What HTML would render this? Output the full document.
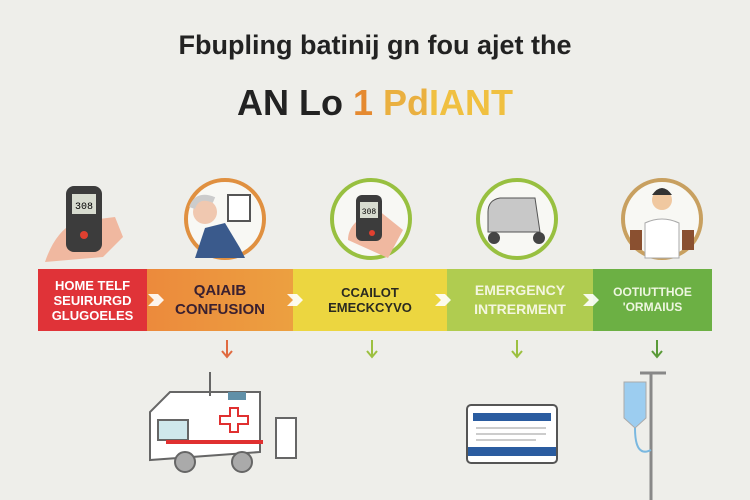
<!DOCTYPE html><html><head><style>
body{margin:0;width:750px;height:500px;background:#eeeeea;font-family:"Liberation Sans",sans-serif;position:relative;overflow:hidden}
.t{position:absolute;left:0;width:750px;text-align:center;font-weight:bold}
.seg{position:absolute;top:269px;height:62px;display:flex;align-items:center;justify-content:center;text-align:center;font-weight:bold;font-size:13px;line-height:15px}
</style></head><body>
<div class="t" style="top:30px;font-size:27px;color:#222">Fbupling batinij gn fou ajet the</div>
<div class="t" style="top:82px;font-size:36px;color:#222">AN Lo <span style="color:#e58a30">1 </span><span style="color:#eab040">Pd</span><span style="color:#f0c040">IANT</span></div>
<div class="seg" style="left:38px;width:109px;background:#e03338;color:#fff">HOME TELF<br>SEUIRURGD<br>GLUGOELES</div>
<div class="seg" style="left:147px;width:146px;background:linear-gradient(90deg,#ec8a3c,#eca040);color:#3a2030;font-size:15px;line-height:19px">QAIAIB<br>CONFUSION</div>
<div class="seg" style="left:293px;width:154px;background:#ecd640;color:#2a2a20">CCAILOT<br>EMECKCYVO</div>
<div class="seg" style="left:447px;width:146px;background:#b0cc50;color:#f4f6e0;font-size:14px;line-height:19px">EMERGENCY<br>INTRERMENT</div>
<div class="seg" style="left:593px;width:119px;background:#6cb044;color:#eef6e0;font-size:12px">OOTIUTTHOE<br>'ORMAIUS</div>
<svg width="750" height="500" style="position:absolute;left:0;top:0">
<g fill="#fff" opacity=".9"><path d="M148 294h10l6 6-6 6h-10l6-6z"/><path d="M287 294h10l6 6-6 6h-10l6-6z"/><path d="M435 294h10l6 6-6 6h-10l6-6z"/><path d="M583 294h10l6 6-6 6h-10l6-6z"/></g>
<g fill="none" stroke-width="4"><circle cx="225" cy="219" r="39" stroke="#e09040" fill="#f8f8f4"/><circle cx="371" cy="219" r="39" stroke="#98c040" fill="#f8f8f4"/><circle cx="517" cy="219" r="39" stroke="#98c040" fill="#f8f8f4"/><circle cx="662" cy="219" r="39" stroke="#c8a060" fill="#f8f8f4"/></g>
<path d="M45 262q10-30 30-40l40-5 8 20-20 20z" fill="#f0b8a0"/>
<rect x="66" y="186" width="36" height="66" rx="8" fill="#3c3c3c"/><rect x="72" y="194" width="24" height="20" fill="#d8dcd0"/><text x="84" y="209" font-size="10" text-anchor="middle" font-family="Liberation Mono">308</text><circle cx="84" cy="235" r="4" fill="#e04030"/>
<path d="M195 258l10-30 20-5 15 25 5 10z" fill="#3a5a8c"/><circle cx="205" cy="212" r="12" fill="#f0c8b0"/><path d="M192 208q5-15 22-8" stroke="#ccc" stroke-width="6" fill="none"/><rect x="228" y="195" width="22" height="26" fill="#fff" stroke="#555" stroke-width="2"/>
<path d="M348 240q0-20 30-30l25 20-15 28z" fill="#f0b8a0"/><rect x="356" y="195" width="26" height="46" rx="6" fill="#3c3c3c"/><rect x="360" y="202" width="18" height="16" fill="#d8dcd0"/><text x="369" y="214" font-size="8" text-anchor="middle" font-family="Liberation Mono">308</text><circle cx="372" cy="233" r="3" fill="#e04030"/>
<path d="M488 232v-20q0-12 12-14h35l5 34z" fill="#c8c8c8" stroke="#555"/><circle cx="494" cy="238" r="6" fill="#444"/><circle cx="539" cy="238" r="6" fill="#444"/>
<circle cx="662" cy="200" r="10" fill="#f0c8a0"/><path d="M652 195q10-14 20 0" fill="#333"/><path d="M645 258v-35q17-8 34 0v35z" fill="#fff" stroke="#aaa"/><rect x="630" y="230" width="12" height="20" fill="#8a5030"/><rect x="682" y="230" width="12" height="20" fill="#8a5030"/>
<g stroke-width="2" fill="none"><path d="M227 340v16M222 351l5 6 5-6" stroke="#e06a40"/><path d="M372 340v16M367 351l5 6 5-6" stroke="#9cc040"/><path d="M517 340v16M512 351l5 6 5-6" stroke="#9cc040"/><path d="M657 340v16M652 351l5 6 5-6" stroke="#5a9a38"/></g>
<g stroke="#666" stroke-width="2"><path d="M150 460v-48l20-20h90v60z" fill="#fff"/><rect x="158" y="420" width="30" height="20" fill="#cfe8ec"/><path d="M166 442h97" stroke="#e03030" stroke-width="4"/><path d="M220 416h10v-8h8v8h10v8h-10v8h-8v-8h-10z" fill="none" stroke="#e03030"/><circle cx="185" cy="462" r="10" fill="#aaa"/><circle cx="242" cy="462" r="10" fill="#aaa"/><rect x="276" y="418" width="20" height="40" fill="#fff"/><path d="M210 396v-24"/></g>
<rect x="228" y="392" width="18" height="8" fill="#6090a8"/>
<rect x="467" y="405" width="90" height="58" rx="4" fill="#fff" stroke="#555" stroke-width="2"/><rect x="473" y="413" width="78" height="8" fill="#2a5ca0"/><rect x="468" y="447" width="88" height="9" fill="#2a5ca0"/>
<g stroke="#999"><path d="M476 428h70M476 434h70M476 440h60"/></g>
<path d="M651 372v128M640 373h26" stroke="#888" stroke-width="3"/><path d="M624 382h22v36l-11 10-11-10z" fill="#9ccdf0" stroke="#aaa"/><path d="M635 428q0 30 16 22" stroke="#7ab8e0" fill="none" stroke-width="2"/>
</svg>
</body></html>
